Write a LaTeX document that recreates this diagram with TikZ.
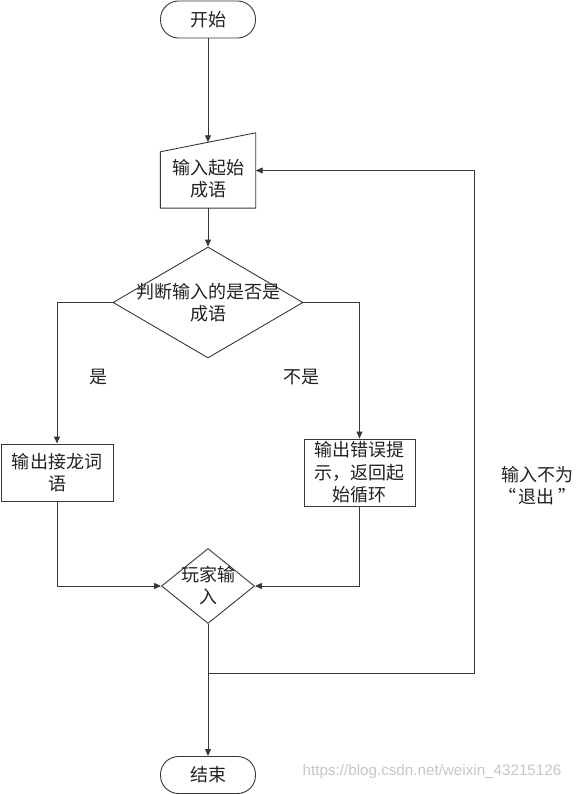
\documentclass[tikz,border=0pt]{standalone}
\usepackage{fontspec}
\newfontfamily\cjkfont{Noto Sans CJK SC}
\newfontfamily\wmfont{Liberation Sans}
\usepackage{tikz}
\usetikzlibrary{shapes.geometric,arrows.meta,calc}
\tikzset{
  termbox/.style={
    draw=linecol, line width=0.9pt, rounded corners=18pt,
    minimum width=95pt, minimum height=37pt, inner sep=0pt,
    text=textcol, font=\cjkfont\fontsize{18}{22}\selectfont,
  },
  procbox/.style={
    draw=linecol, line width=0.9pt, inner sep=0pt, align=center,
    text=textcol, font=\cjkfont\fontsize{18}{22.5}\selectfont,
  },
  decbox/.style={
    draw=linecol, line width=0.9pt, diamond, inner sep=0pt,
  },
  cntext/.style={
    inner sep=0pt, align=center,
    text=textcol, font=\cjkfont\fontsize{18}{22}\selectfont,
  },
  flowline/.style={
    draw=linecol, line width=0.9pt, -{Triangle[length=7pt,width=6pt]},
  },
}
\begin{document}
\begin{tikzpicture}[x=1pt, y=-1pt]
% Defining colors
\definecolor{linecol}{rgb}{0.22, 0.22, 0.22}
\definecolor{textcol}{rgb}{0.13, 0.13, 0.13}

\useasboundingbox (0, 0) rectangle (576, 794);

% =:=:=:=:=:=:=:=:=:=:=:=:=:=:=:=:=:=:=
% Start and input
% =:=:=:=:=:=:=:=:=:=:=:=:=:=:=:=:=:=:=
\node[termbox] (start) at (208, 19.5) {开始};

% manual input box, slanted top
\node[minimum width=95pt, minimum height=75pt, inner sep=0pt]
    (inp) at (208, 170.5) {};
\draw[draw=linecol, line width=0.9pt]
    (inp.south west) -- (inp.south east) -- (inp.north east)
    -- ($(inp.north west)+(0, 19)$) -- cycle;
\node[cntext] (inptxt) at ([yshift=-8pt]inp.center) {输入起始\\成语};
\coordinate (inptop) at ($(inp.north)+(0, 9.5)$);

% =:=:=:=:=:=:=:=:=:=:=:=:=:=:=:=:=:=:=
% Check and the two branches
% =:=:=:=:=:=:=:=:=:=:=:=:=:=:=:=:=:=:=
\node[decbox, minimum width=190pt, minimum height=111pt]
    (judge) at (208, 302.5) {};
\node[cntext] (judgetxt) at (judge.center) {判断输入的是否是\\成语};

\node[procbox, minimum width=112pt, minimum height=57pt]
    (chain) at (57, 472.5) {输出接龙词\\语};
\node[procbox, minimum width=111pt, minimum height=67pt]
    (errmsg) at (359.5, 472.5) {输出错误提\\示，返回起\\始循环};

\node[cntext] (yeslbl) at (98, 377) {是};
\node[cntext] (nolbl) at (301, 377) {不是};

% =:=:=:=:=:=:=:=:=:=:=:=:=:=:=:=:=:=:=
% Player input and end
% =:=:=:=:=:=:=:=:=:=:=:=:=:=:=:=:=:=:=
\node[decbox, minimum width=93pt, minimum height=75pt]
    (player) at (208, 586) {};
\node[cntext] (playertxt) at (player.center) {玩家输\\入};

\node[termbox] (stop) at (208, 775) {结束};

\node[cntext] (exitlbl) at (537, 486) {输入不为\\“\,退出\,”};

% =:=:=:=:=:=:=:=:=:=:=:=:=:=:=:=:=:=:=
% Connectors
% =:=:=:=:=:=:=:=:=:=:=:=:=:=:=:=:=:=:=
\draw[flowline] (start) -- (inptop);
\draw[flowline] (inp.south) -- (judge.north);
\draw[flowline] (judge.west) -| (chain.north);
\draw[flowline] (judge.east) -| (errmsg.north);
\draw[flowline] (chain.south) |- (player.west);
\draw[flowline] (errmsg.south) |- (player.east);
\draw[flowline] (player.south) -- (stop.north);

% loop back to the input
\coordinate (split) at (208, 673);
\coordinate (loopcorner) at (474, 673);
\draw[flowline] (split) -- (loopcorner) |- (inp.east);

% watermark
\node[text=gray!45, font=\wmfont\fontsize{15.2}{17}\selectfont]
    (wmark) at (432, 772) {https://blog.csdn.net/weixin\_43215126};

\end{tikzpicture}
\end{document}
